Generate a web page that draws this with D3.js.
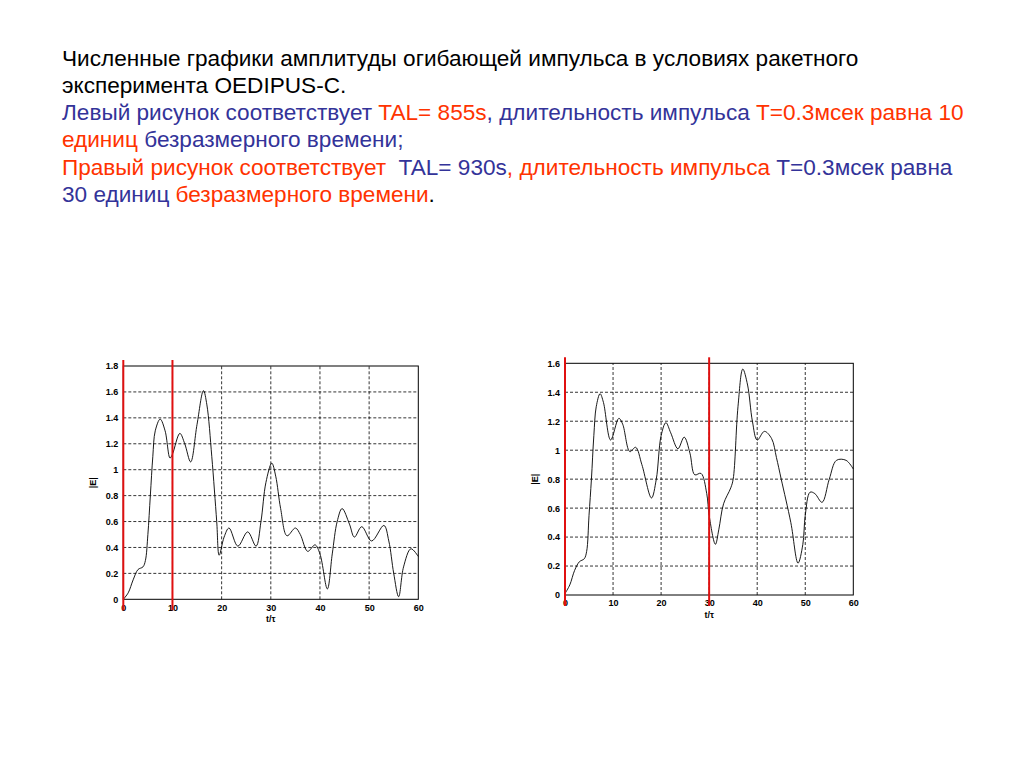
<!DOCTYPE html>
<html>
<head>
<meta charset="utf-8">
<script src="https://cdn.jsdelivr.net/npm/d3@7"></script>
<style>
  body { margin: 0; background: #fff; }
  svg { display: block; }
</style>
</head>
<body>
<svg id="chart" width="1024" height="768"></svg>
<script>
// left chart: TAL = 855s, pulse = 10 units
const leftT = [0, 1, 2, 3, 4, 4.5, 5, 5.5, 6, 6.5, 7.5, 8.5, 9.5, 10, 11.5, 12.5, 13.7, 15, 16.3, 17, 18, 19, 19.5, 20.5, 21.5, 23.3, 25.3, 27, 28, 29, 30.2, 31, 32, 33.3, 35, 36, 37.5, 39, 40, 41.5, 42.5, 43.5, 44.5, 46, 47, 48.5, 50.5, 53, 54, 55, 56, 57, 58.5, 60]
const leftE = [0, 0.05, 0.15, 0.23, 0.25, 0.3, 0.5, 0.8, 1.1, 1.3, 1.39, 1.3, 1.09, 1.12, 1.28, 1.2, 1.06, 1.35, 1.61, 1.5, 1.1, 0.6, 0.34, 0.48, 0.55, 0.41, 0.52, 0.41, 0.6, 0.9, 1.05, 0.95, 0.7, 0.49, 0.55, 0.5, 0.37, 0.42, 0.35, 0.08, 0.35, 0.6, 0.7, 0.58, 0.48, 0.56, 0.45, 0.57, 0.45, 0.2, 0.02, 0.25, 0.39, 0.33]
const leftMarks = [0, 10]
const leftYTicks = [0, 0.2, 0.4, 0.6, 0.8, 1, 1.2, 1.4, 1.6, 1.8]

// right chart: TAL = 930s, pulse = 30 units
const rightT = [0, 1, 2, 3, 4, 4.5, 5, 5.5, 6, 6.5, 7.3, 8, 9.5, 11.2, 12, 13.5, 14.7, 16, 18, 19, 20, 21, 22, 23.5, 24.8, 26, 27, 28.3, 29.5, 30, 31.3, 32, 33, 34.5, 35, 36, 37, 38, 39, 40, 41.5, 43, 44, 45, 47, 48.5, 49.5, 50, 51, 52, 53.5, 55, 56.5, 58.5, 60]
const rightE = [0.01, 0.07, 0.17, 0.23, 0.25, 0.3, 0.55, 0.8, 1.1, 1.3, 1.39, 1.33, 1.07, 1.22, 1.18, 0.99, 1.02, 0.9, 0.67, 0.8, 1.1, 1.19, 1.12, 1.01, 1.09, 0.98, 0.83, 0.84, 0.7, 0.55, 0.35, 0.45, 0.63, 0.74, 0.8, 1.3, 1.56, 1.45, 1.2, 1.07, 1.13, 1.08, 0.95, 0.8, 0.5, 0.22, 0.35, 0.55, 0.71, 0.7, 0.64, 0.8, 0.93, 0.93, 0.87]
const rightMarks = [0, 30]
const rightYTicks = [0, 0.2, 0.4, 0.6, 0.8, 1, 1.2, 1.4, 1.6]

const xTicks = [0, 10, 20, 30, 40, 50, 60]

const BLUE = '#333399'
const RED = '#ff3300'

const svg = d3.select('#chart')

// caption lines, each a list of [text, color]
const caption = [
  [['Численные графики амплитуды огибающей импульса в условиях ракетного', '#000']],
  [['эксперимента OEDIPUS-C.', '#000']],
  [['Левый рисунок соответствует ', BLUE], ['TAL= 855s', RED], [', длительность импульса ', BLUE], ['T=0.3мсек равна 10', RED]],
  [['единиц ', RED], ['безразмерного времени;', BLUE]],
  [['Правый рисунок соответствует  ', RED], ['TAL= 930s', BLUE], [', длительность импульса ', RED], ['T=0.3мсек равна', BLUE]],
  [['30 единиц ', BLUE], ['безразмерного времени', RED], ['.', '#000']]
]

caption.forEach((parts, i) => {
  const t = svg.append('text')
    .attr('x', 62)
    .attr('y', 65.5 + i * 27.3)
    .attr('font-family', 'Liberation Sans, Arial, sans-serif')
    .attr('font-size', '22.6px')
    .attr('xml:space', 'preserve')
  parts.forEach(p => {
    t.append('tspan').attr('fill', p[1]).text(p[0])
  })
})

/**
 * Draws one |E| versus t/tau panel with its grid, curve and red pulse markers.
 */
function drawPanel (box, yMax, yTicks, ts, es, marks) {
  const x = d3.scaleLinear().domain([0, 60]).range([box.x0, box.x1])
  const y = d3.scaleLinear().domain([0, yMax]).range([box.y0, box.y1])
  const g = svg.append('g')

  // dashed grid
  g.selectAll('.vgrid')
    .data(xTicks.slice(1, -1))
    .enter()
    .append('line')
    .attr('x1', d => x(d)).attr('x2', d => x(d))
    .attr('y1', box.y0).attr('y2', box.y1)
    .attr('stroke', '#000').attr('stroke-width', 0.8)
    .attr('stroke-dasharray', '3,2')
  g.selectAll('.hgrid')
    .data(yTicks.slice(1, -1))
    .enter()
    .append('line')
    .attr('x1', box.x0).attr('x2', box.x1)
    .attr('y1', d => y(d)).attr('y2', d => y(d))
    .attr('stroke', '#000').attr('stroke-width', 0.8)
    .attr('stroke-dasharray', '3,2')

  g.append('rect')
    .attr('x', box.x0).attr('y', box.y1)
    .attr('width', box.x1 - box.x0).attr('height', box.y0 - box.y1)
    .attr('fill', 'none').attr('stroke', '#000').attr('stroke-width', 1)

  // axes labels
  const xAxis = d3.axisBottom(x).tickValues(xTicks).tickSize(0).tickPadding(5)
  const yAxis = d3.axisLeft(y).tickValues(yTicks).tickSize(0).tickPadding(5)
    .tickFormat(d3.format('~g'))
  g.append('g').attr('transform', `translate(0,${box.y0})`).call(xAxis)
  g.append('g').attr('transform', `translate(${box.x0},0)`).call(yAxis)
  g.selectAll('.domain').remove()
  g.selectAll('.tick text')
    .attr('font-family', 'Liberation Sans, Arial, sans-serif')
    .attr('font-size', '9px')
    .attr('font-weight', 'bold')
    .attr('fill', '#000')

  g.append('text')
    .attr('x', (box.x0 + box.x1) / 2)
    .attr('y', box.y0 + 23)
    .attr('text-anchor', 'middle')
    .attr('font-family', 'Liberation Sans, Arial, sans-serif')
    .attr('font-size', '9px')
    .attr('font-weight', 'bold')
    .text('t/τ')
  g.append('text')
    .attr('transform', `translate(${box.x0 - 27},${(box.y0 + box.y1) / 2}) rotate(-90)`)
    .attr('text-anchor', 'middle')
    .attr('font-family', 'Liberation Sans, Arial, sans-serif')
    .attr('font-size', '9px')
    .attr('font-weight', 'bold')
    .text('|E|')

  const line = d3.line()
    .x((d, i) => x(ts[i]))
    .y(d => y(d))
    .curve(d3.curveCatmullRom.alpha(0.5))
  g.append('path')
    .datum(es)
    .attr('d', line)
    .attr('fill', 'none')
    .attr('stroke', '#000')
    .attr('stroke-width', 0.9)

  g.selectAll('.mark')
    .data(marks)
    .enter()
    .append('line')
    .attr('x1', d => x(d)).attr('x2', d => x(d))
    .attr('y1', box.y1 - 6).attr('y2', box.y0 + 11)
    .attr('stroke', '#e01010').attr('stroke-width', 2)
}

drawPanel({ x0: 123.3, x1: 418.3, y0: 599.3, y1: 366 }, 1.8, leftYTicks, leftT, leftE, leftMarks)
drawPanel({ x0: 565, x1: 853.3, y0: 595, y1: 363.3 }, 1.6, rightYTicks, rightT, rightE, rightMarks)
</script>
</body>
</html>
